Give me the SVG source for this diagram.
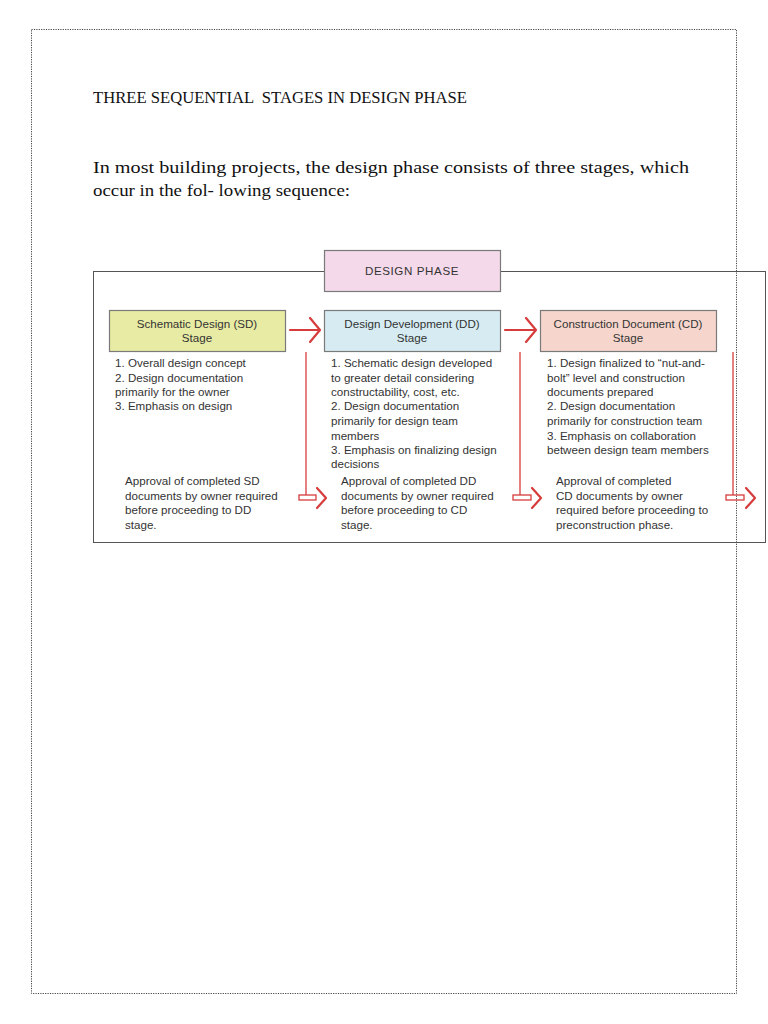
<svg xmlns="http://www.w3.org/2000/svg" width="768" height="1024" viewBox="0 0 768 1024">
<defs>
<style>
.page{fill:none;stroke:#444;stroke-width:1;stroke-dasharray:1.2 1.2}
.serif{font-family:"Liberation Serif","Times New Roman",serif;fill:#111}
.hand{font-family:"Liberation Sans",Arial,sans-serif;font-size:11.6px;fill:#333}
.head{font-family:"Liberation Sans",Arial,sans-serif;font-size:11.6px;fill:#333;text-anchor:middle}
.frame{fill:none;stroke:#555;stroke-width:1}
.box{stroke:#7a7a7a;stroke-width:1.2}
.red{fill:none;stroke:#d63c3c;stroke-width:2.2;stroke-linecap:round;stroke-linejoin:round}
.redthin{fill:none;stroke:#d63c3c;stroke-width:1.3}
</style>
</defs>
<rect width="768" height="1024" fill="#ffffff"/>
<rect class="page" x="31.5" y="29.5" width="705" height="964"/>
<text class="serif" x="93" y="103" font-size="16.5" textLength="374" lengthAdjust="spacingAndGlyphs" style="white-space:pre">THREE SEQUENTIAL  STAGES IN DESIGN PHASE</text>
<text class="serif" x="93" y="173" font-size="17.5" textLength="596" lengthAdjust="spacingAndGlyphs">In most building projects, the design phase consists of three stages, which</text>
<text class="serif" x="93" y="196" font-size="17.5" textLength="257" lengthAdjust="spacingAndGlyphs">occur in the fol- lowing sequence:</text>

<rect class="frame" x="93.5" y="271.5" width="672" height="271"/>

<g id="design-phase">
<rect class="box" x="324.5" y="250.5" width="176" height="41" fill="#f3d9e9"/>
<text class="head" x="412" y="275" letter-spacing="0.6">DESIGN PHASE</text>
</g>

<g id="sd-stage">
<rect class="box" x="109.5" y="310.5" width="176" height="41" fill="#e8eba3"/>
<text class="head" x="197" y="328">Schematic Design (SD)</text>
<text class="head" x="197" y="342">Stage</text>
<text class="hand" x="115" y="367">1. Overall design concept</text>
<text class="hand" x="115" y="382">2. Design documentation</text>
<text class="hand" x="115" y="396">primarily for the owner</text>
<text class="hand" x="115" y="410">3. Emphasis on design</text>
<text class="hand" x="125" y="485">Approval of completed SD</text>
<text class="hand" x="125" y="500">documents by owner required</text>
<text class="hand" x="125" y="514">before proceeding to DD</text>
<text class="hand" x="125" y="529">stage.</text>
</g>

<g id="dd-stage">
<rect class="box" x="324.5" y="310.5" width="176" height="41" fill="#d6ecf2"/>
<text class="head" x="412" y="328">Design Development (DD)</text>
<text class="head" x="412" y="342">Stage</text>
<text class="hand" x="331" y="367">1. Schematic design developed</text>
<text class="hand" x="331" y="382">to greater detail considering</text>
<text class="hand" x="331" y="396">constructability, cost, etc.</text>
<text class="hand" x="331" y="410">2. Design documentation</text>
<text class="hand" x="331" y="425">primarily for design team</text>
<text class="hand" x="331" y="440">members</text>
<text class="hand" x="331" y="454">3. Emphasis on finalizing design</text>
<text class="hand" x="331" y="468">decisions</text>
<text class="hand" x="341" y="485">Approval of completed DD</text>
<text class="hand" x="341" y="500">documents by owner required</text>
<text class="hand" x="341" y="514">before proceeding to CD</text>
<text class="hand" x="341" y="529">stage.</text>
</g>

<g id="cd-stage">
<rect class="box" x="540.5" y="310.5" width="176" height="41" fill="#f6d6cc"/>
<text class="head" x="628" y="328">Construction Document (CD)</text>
<text class="head" x="628" y="342">Stage</text>
<text class="hand" x="547" y="367">1. Design finalized to “nut-and-</text>
<text class="hand" x="547" y="382">bolt” level and construction</text>
<text class="hand" x="547" y="396">documents prepared</text>
<text class="hand" x="547" y="410">2. Design documentation</text>
<text class="hand" x="547" y="425">primarily for construction team</text>
<text class="hand" x="547" y="440">3. Emphasis on collaboration</text>
<text class="hand" x="547" y="454">between design team members</text>
<text class="hand" x="556" y="485">Approval of completed</text>
<text class="hand" x="556" y="500">CD documents by owner</text>
<text class="hand" x="556" y="514">required before proceeding to</text>
<text class="hand" x="556" y="529">preconstruction phase.</text>
</g>

<g id="connectors">
<path class="red" d="M290 330 H319 M310 318 L320 330 L310 342"/>
<path class="red" d="M505 330 H535 M526 318 L536 330 L526 342"/>
<path class="redthin" d="M306 352 V495"/>
<rect class="redthin" x="299" y="495" width="17" height="5"/>
<path class="red" d="M317 488 L326 498 L317 508"/>
<path class="redthin" d="M520 352 V495"/>
<rect class="redthin" x="513" y="495" width="18" height="5"/>
<path class="red" d="M532 488 L541 498 L532 508"/>
<path class="redthin" d="M733 352 V495"/>
<rect class="redthin" x="726" y="495" width="18" height="5"/>
<path class="red" d="M746 488 L755 498 L746 508"/>
</g>
</svg>
